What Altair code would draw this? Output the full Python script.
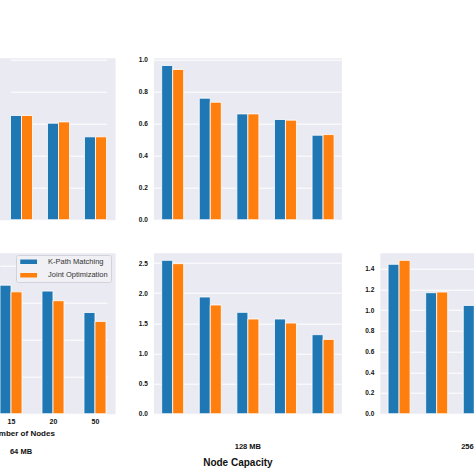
import altair as alt
import pandas as pd

SERIES = ["K-Path Matching", "Joint Optimization"]
COLORS = ["#1f77b4", "#ff7f0e"]

LEFT_GROUPS = ["15", "20", "50"]
FIVE_GROUPS = ["5", "10", "15", "20", "50"]

# top row (64 MB, 128 MB)
tl_kpm = [0.650, 0.602, 0.517]
tl_joint = [0.650, 0.610, 0.517]
tm_kpm = [0.962, 0.758, 0.660, 0.625, 0.527]
tm_joint = [0.937, 0.733, 0.660, 0.621, 0.531]
# bottom row (64 MB, 128 MB, 256 MB)
bl_kpm = [1.74, 1.66, 1.37]
bl_joint = [1.65, 1.53, 1.25]
bm_kpm = [2.544, 1.936, 1.681, 1.571, 1.311]
bm_joint = [2.489, 1.803, 1.571, 1.504, 1.233]
br_kpm = [1.442, 1.168, 1.045]
br_joint = [1.480, 1.174]

FONT = "Liberation Sans"
BG = "#EAEAF2"
W = 188
H_TOP = 162
H_BOT = 161
TXT = "#111111"


def table(groups, kpm, joint):
    rows = [{"group": g, "series": SERIES[0], "value": v} for g, v in zip(groups, kpm)]
    rows += [{"group": g, "series": SERIES[1], "value": v} for g, v in zip(groups, joint)]
    return pd.DataFrame(rows)


def no_x_axis(title=None):
    if title is None:
        return alt.Axis(labels=False, ticks=False, domain=False, grid=False, title=None)
    return alt.Axis(labels=False, ticks=False, domain=False, grid=False, title=title,
                    titleY=33, titleBaseline="middle", titleFont=FONT, titleFontSize=7.5,
                    titleFontWeight="bold", titleColor=TXT)


def panel(df, groups, xscale, ydomain, yvalues, height, ylabels=True, xaxis=None,
          legend=None, title=None):
    enc = dict(
        x=alt.X("group:N", sort=groups, scale=xscale, axis=xaxis if xaxis is not None else no_x_axis()),
        xOffset=alt.XOffset("series:N", sort=SERIES, scale=alt.Scale(domain=SERIES)),
        y=alt.Y("value:Q", scale=alt.Scale(domain=ydomain, nice=False, zero=True),
                axis=alt.Axis(values=yvalues, format=".1f", labels=ylabels, ticks=False,
                              domain=False, grid=True, gridColor="white", gridWidth=1,
                              title=None, labelFont=FONT, labelFontSize=6.5,
                              labelFontWeight="bold", labelColor=TXT, labelPadding=6)),
        color=alt.Color("series:N", sort=SERIES, scale=alt.Scale(domain=SERIES, range=COLORS),
                        legend=legend),
    )
    ch = (alt.Chart(df).mark_bar(stroke="white", strokeWidth=0.8).encode(**enc)
          .properties(width=W, height=height,
                      view=alt.ViewBackground(fill=BG, stroke="transparent")))
    if title is not None:
        ch = ch.properties(title=title)
    return ch


y_top = [0.0, 0.2, 0.4, 0.6, 0.8, 1.0]
y_bl = [0.0, 0.5, 1.0, 1.5, 2.0]
y_bm = [0.0, 0.5, 1.0, 1.5, 2.0, 2.5]
y_br = [0.0, 0.2, 0.4, 0.6, 0.8, 1.0, 1.2, 1.4]

five_scale = alt.Scale(domain=FIVE_GROUPS, paddingInner=0.44, paddingOuter=0.22)

tl = panel(table(LEFT_GROUPS, tl_kpm, tl_joint), LEFT_GROUPS,
           alt.Scale(domain=LEFT_GROUPS, range=[83.5, 179.5], paddingInner=0.405, paddingOuter=0),
           [0, 1.0106], y_top, H_TOP, ylabels=False)
tm = panel(table(FIVE_GROUPS, tm_kpm, tm_joint), FIVE_GROUPS, five_scale,
           [0, 1.0106], y_top, H_TOP)
blank = (alt.Chart(pd.DataFrame({"v": [0]})).mark_point(opacity=0)
         .encode(x=alt.value(0), y=alt.value(0))
         .properties(width=W, height=H_TOP,
                     view=alt.ViewBackground(fill="white", stroke="transparent")))

bl_axis = alt.Axis(labels=True, ticks=False, domain=False, grid=False, labelAngle=0,
                   labelFont=FONT, labelFontSize=7, labelFontWeight="bold", labelColor=TXT,
                   labelBaseline="middle", labelPadding=8,
                   title="Number of Nodes", titleX=94, titleAlign="center", titleY=20,
                   titleBaseline="middle", titleFont=FONT, titleFontSize=8,
                   titleFontWeight="bold", titleColor=TXT)
bl_legend = alt.Legend(orient="none", legendX=89, legendY=2.3, title=None,
                       fillColor="#F0F0F5", strokeColor="#D2D2DA", cornerRadius=2,
                       padding=3, symbolType="M-2.4,-0.64H2.4V0.64H-2.4Z", symbolSize=49,
                       symbolOffset=5.9, symbolStrokeWidth=0, labelFont=FONT,
                       labelFontSize=7.5, labelColor="#333333", labelOffset=15.7,
                       rowPadding=4.5)
bl = panel(table(LEFT_GROUPS, bl_kpm, bl_joint), LEFT_GROUPS,
           alt.Scale(domain=LEFT_GROUPS, range=[73, 180], paddingInner=0.452, paddingOuter=0),
           [0, 2.18], y_bl, H_BOT, ylabels=False, xaxis=bl_axis, legend=bl_legend,
           title=alt.TitleParams("64 MB", orient="bottom", baseline="middle", offset=14,
                                 frame="group", font=FONT, fontSize=7.5, fontWeight="bold",
                                 color=TXT))
bm = panel(table(FIVE_GROUPS, bm_kpm, bm_joint), FIVE_GROUPS, five_scale,
           [0, 2.671], y_bm, H_BOT, xaxis=no_x_axis("128 MB"),
           title=alt.TitleParams("Node Capacity", orient="bottom", baseline="middle",
                                 offset=12.5, dx=-9.5, frame="group", font=FONT,
                                 fontSize=10, fontWeight="bold", color=TXT))
br = panel(table(FIVE_GROUPS, br_kpm, br_joint), FIVE_GROUPS, five_scale,
           [0, 1.554], y_br, H_BOT, xaxis=no_x_axis("256 MB"))

chart = (alt.concat(tl, tm, blank, bl, bm, br, columns=3,
                    spacing={"row": 33, "column": 38.4}, bounds="flush")
         .resolve_scale(color="independent", x="independent", y="independent")
         .resolve_legend(color="independent")
         .properties(autosize=alt.AutoSizeParams(type="none"),
                     padding={"left": -73, "top": 57.7, "right": 547, "bottom": 416.3})
         .configure(background="white"))

chart.save("out.html", embed_options={"renderer": "svg", "actions": False})
